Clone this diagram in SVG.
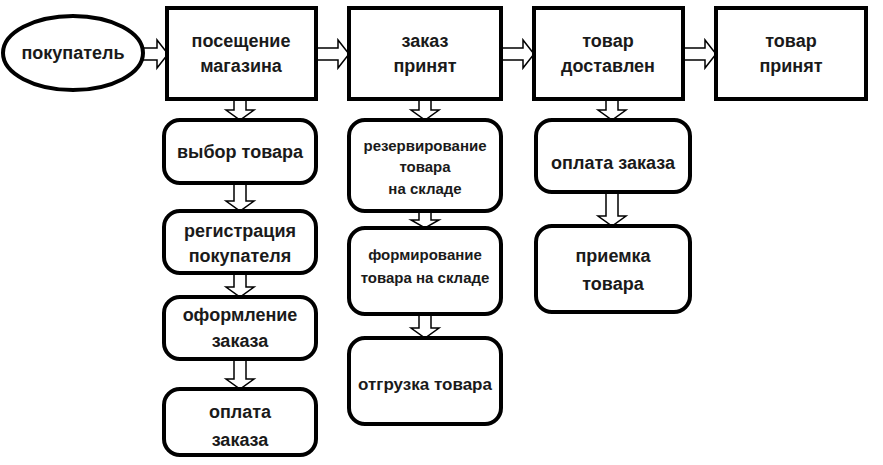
<svg xmlns="http://www.w3.org/2000/svg" width="883" height="465" viewBox="0 0 883 465">
<style>
.n{fill:#fff;stroke:#000;stroke-width:4}
.a{fill:#fff;stroke:#000;stroke-width:1.5;stroke-linejoin:miter}
text{font-family:"Liberation Sans",Arial,sans-serif;font-weight:bold;font-size:18px;fill:#1a1a1a;text-anchor:middle}
</style>
<rect width="883" height="465" fill="#fff"/>
<g id="connectors">
<path class="a" d="M143 48H157V40L168 54L157 68V60H143Z"/>
<path class="a" d="M317 48H338V40L349 54L338 68V60H317Z"/>
<path class="a" d="M502 48H523V40L534 54L523 68V60H502Z"/>
<path class="a" d="M684 48H705V40L716 54L705 68V60H684Z"/>
<path class="a" d="M234 100V110H226L240 120L254 110H246V100Z"/>
<path class="a" d="M234 184V201H226L240 211L254 201H246V184Z"/>
<path class="a" d="M234 274V287H226L240 297L254 287H246V274Z"/>
<path class="a" d="M234 360V379H226L240 389L254 379H246V360Z"/>
<path class="a" d="M419 100V110H411L425 120L439 110H431V100Z"/>
<path class="a" d="M419 212V220H411L425 228L439 220H431V212Z"/>
<path class="a" d="M419 315V328H411L425 338L439 328H431V315Z"/>
<path class="a" d="M606 100V110H598L612 120L626 110H618V100Z"/>
<path class="a" d="M606 193V216H598L612 226L626 216H618V193Z"/>
</g>
<g id="n0"><ellipse class="n" cx="73" cy="53" rx="70" ry="37"/><text x="73" y="59">покупатель</text></g>
<g id="n1"><rect class="n" x="167" y="8" width="149" height="91"/><text x="241" y="47">посещение</text><text x="241" y="72">магазина</text></g>
<g id="n2"><rect class="n" x="349" y="8" width="152" height="91"/><text x="425" y="47">заказ</text><text x="425" y="72">принят</text></g>
<g id="n3"><rect class="n" x="534" y="8" width="149" height="91"/><text x="608" y="47">товар</text><text x="608" y="72">доставлен</text></g>
<g id="n4"><rect class="n" x="716" y="8" width="150" height="91"/><text x="791" y="47">товар</text><text x="791" y="72">принят</text></g>
<g id="n5"><rect class="n" x="164" y="120" width="152" height="63" rx="16"/><text x="240" y="158">выбор товара</text></g>
<g id="n6"><rect class="n" x="164" y="211" width="152" height="62" rx="16"/><text x="240" y="237">регистрация</text><text x="240" y="262">покупателя</text></g>
<g id="n7"><rect class="n" x="164" y="297" width="152" height="62" rx="16"/><text x="240" y="321">оформление</text><text x="240" y="347">заказа</text></g>
<g id="n8"><rect class="n" x="164" y="389" width="152" height="66" rx="16"/><text x="240" y="418">оплата</text><text x="240" y="446">заказа</text></g>
<g id="n9"><rect class="n" x="349" y="120" width="152" height="91" rx="16"/><text x="425" y="151" style="font-size:15px">резервирование</text><text x="425" y="172" style="font-size:15px">товара</text><text x="425" y="194" style="font-size:15px">на складе</text></g>
<g id="n10"><rect class="n" x="349" y="228" width="152" height="86" rx="16"/><text x="425" y="260" style="font-size:15px">формирование</text><text x="425" y="283" style="font-size:15px">товара на складе</text></g>
<g id="n11"><rect class="n" x="349" y="338" width="152" height="86" rx="16"/><text x="425" y="390" style="font-size:17px">отгрузка товара</text></g>
<g id="n12"><rect class="n" x="536" y="120" width="154" height="72" rx="16"/><text x="613" y="169">оплата заказа</text></g>
<g id="n13"><rect class="n" x="536" y="226" width="154" height="86" rx="16"/><text x="613" y="262">приемка</text><text x="613" y="290">товара</text></g>
</svg>
